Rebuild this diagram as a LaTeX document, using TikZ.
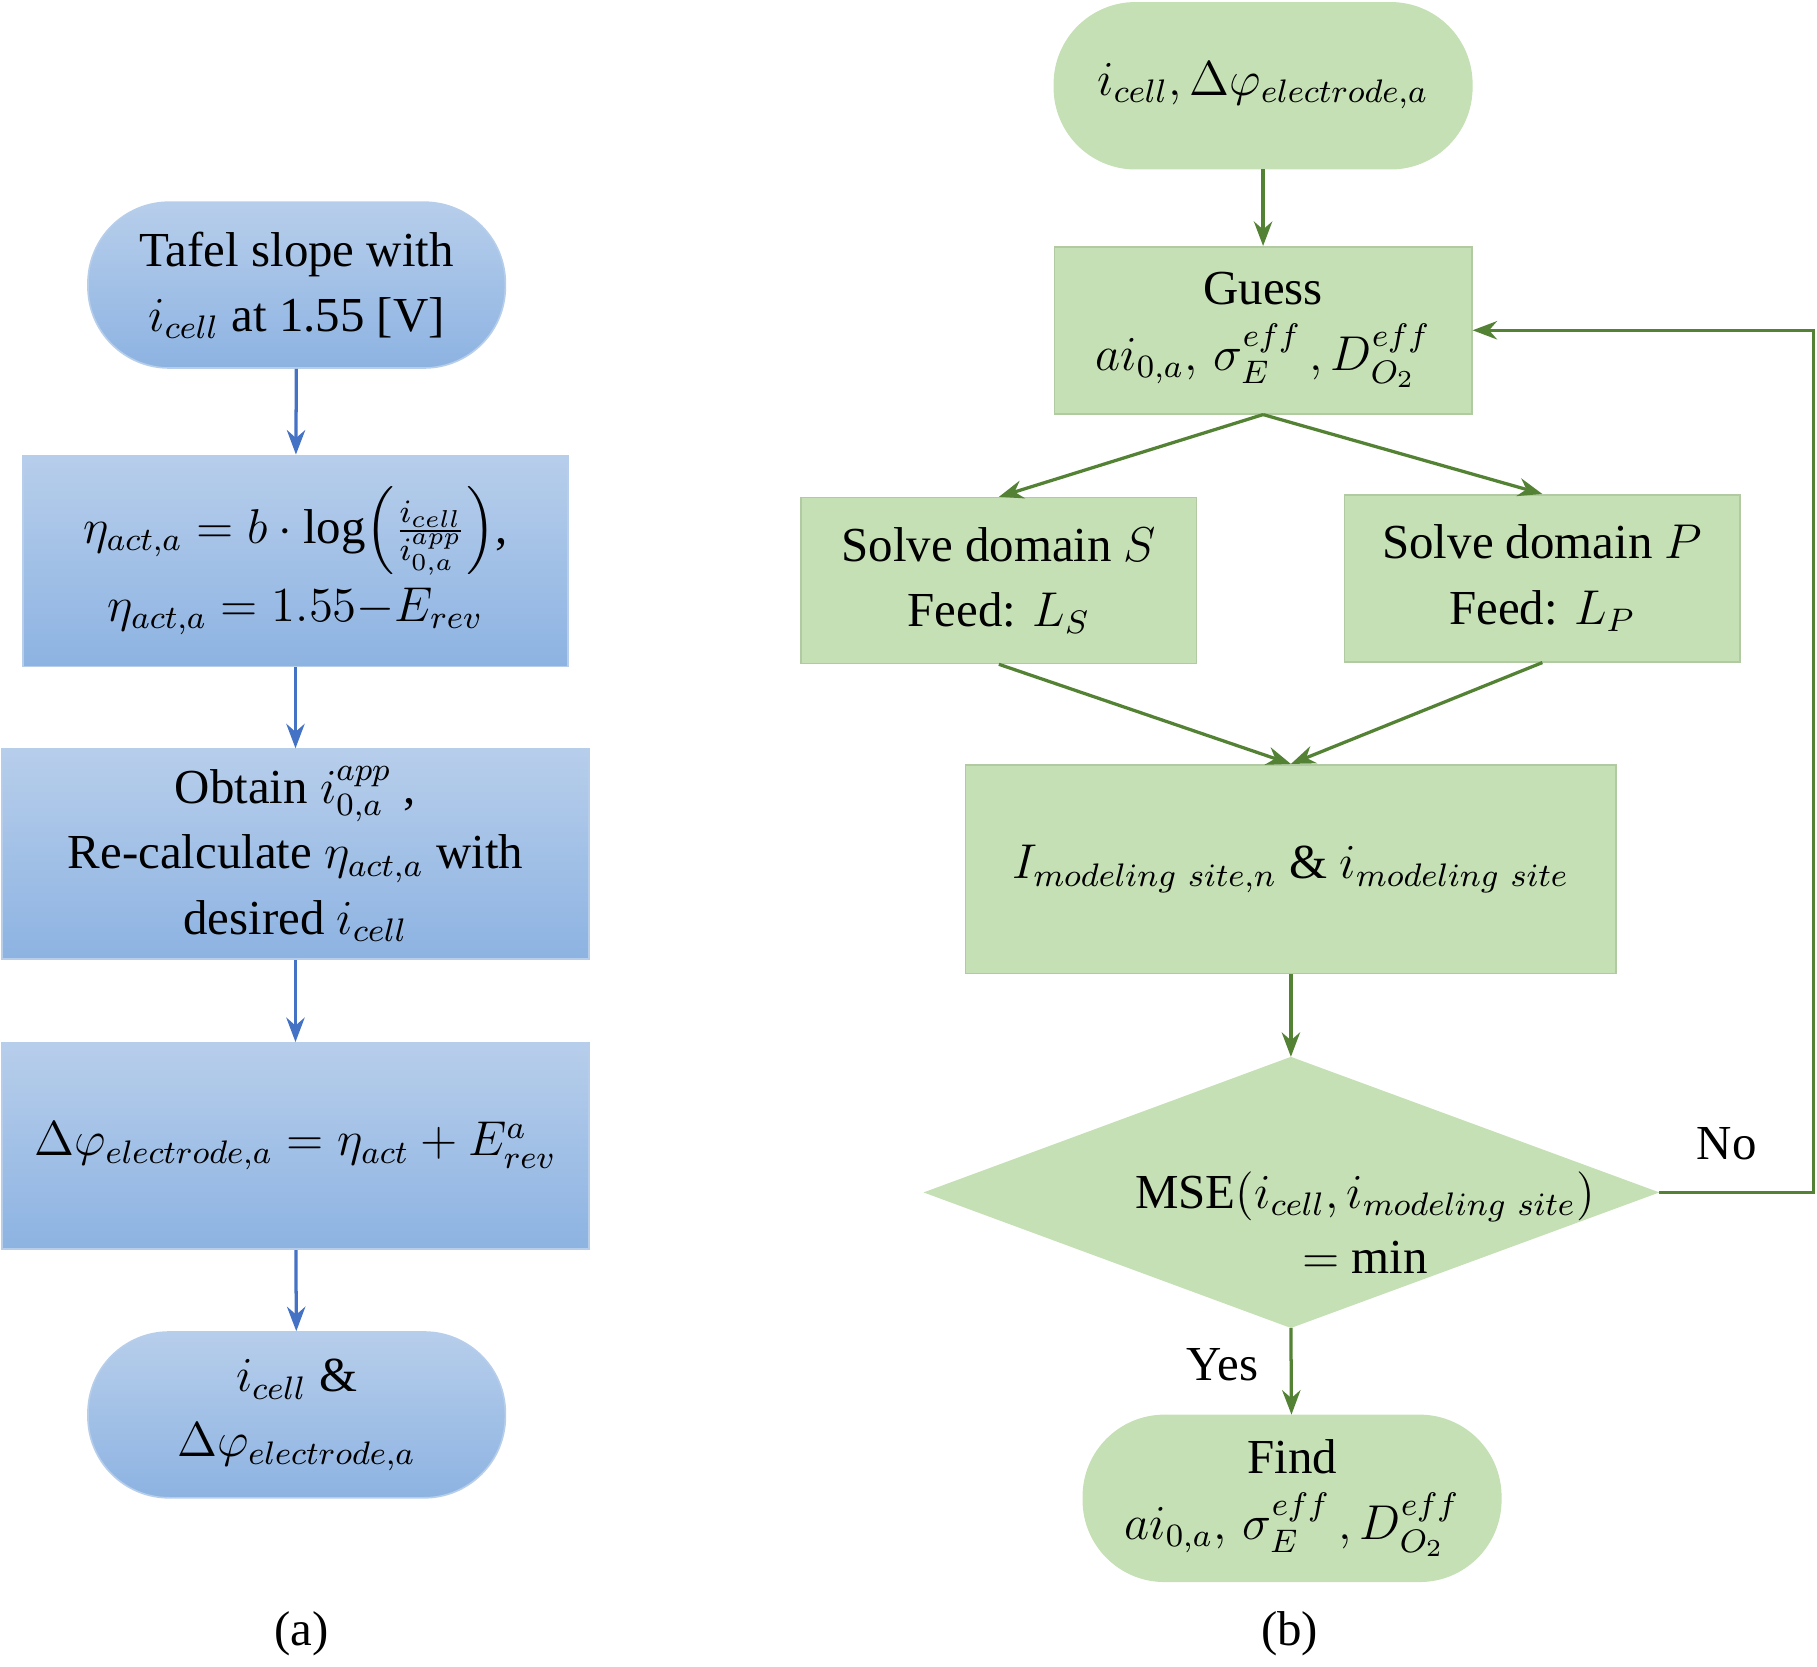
\documentclass[tikz,border=0pt]{standalone}
\usepackage{amsmath}
\usepackage{fontspec}
\setmainfont{Liberation Serif}
\usetikzlibrary{shapes.geometric,arrows.meta}
\definecolor{bluetop}{HTML}{B7CEEB}
\definecolor{bluebot}{HTML}{8DB3E2}
\definecolor{bluearrow}{HTML}{4472C4}
\definecolor{greenfill}{HTML}{C5E0B4}
\definecolor{greenarrow}{HTML}{548235}
\begin{document}
\begin{tikzpicture}
            [x=0.01cm, y=-0.01cm, font=\fontsize{12}{16}\selectfont,
            bterm/.style={rounded corners=0.7cm, top color=bluetop, bottom color=bluebot, draw=bluetop, minimum width=3.6cm, minimum height=1.43cm, align=center, inner sep=1pt},
            bbox/.style={top color=bluetop, bottom color=bluebot, draw=bluetop, align=center, inner sep=1pt},
            gterm/.style={rounded corners=0.7cm, fill=greenfill, draw=greenfill, minimum width=3.6cm, minimum height=1.43cm, align=center, inner sep=1pt},
            gbox/.style={fill=greenfill, draw=greenfill!90!black, align=center, inner sep=1pt},
            barrow/.style={-{Stealth[length=6pt]}, thick, bluearrow},
            garrow/.style={-{Stealth[length=6pt]}, thick, greenarrow}]

            \useasboundingbox (0,0) rectangle (1568,1438);

            % (a) column
            \node[bterm] (tafel) at (256,246) {Tafel slope with\\ $i_{cell}$ at 1.55 [V]};
            \node[bbox, minimum width=4.7cm, minimum height=1.82cm] (eta) at (255,484)
                {$\eta_{act,a}=b\cdot\log\!\left(\frac{i_{cell}}{i_{0,a}^{app}}\right)$,\\[2pt] $\eta_{act,a}=1.55{-}E_{rev}$};
            \node[bbox, minimum width=5.06cm, minimum height=1.81cm] (obtain) at (255,737)
                {Obtain $i_{0,a}^{app}$ ,\\ Re-calculate $\eta_{act,a}$ with\\ desired $i_{cell}$};
            \node[bbox, minimum width=5.06cm, minimum height=1.78cm] (dphi) at (255,989)
                {$\Delta\varphi_{electrode,a}=\eta_{act}+E_{rev}^{a}$};
            \node[bterm] (out) at (256,1221) {$i_{cell}$ \&\\ $\Delta\varphi_{electrode,a}$};
            \node at (260,1410) {(a)};

            \draw[barrow] (tafel) -- (eta);
            \draw[barrow] (eta) -- (obtain);
            \draw[barrow] (obtain) -- (dphi);
            \draw[barrow] (dphi) -- (out);

            % (b) column
            \node[gterm] (input) at (1090,74) {$i_{cell},\Delta\varphi_{electrode,a}$};
            \node[gbox, minimum width=3.6cm, minimum height=1.44cm] (guess) at (1090,285)
                {Guess\\ $ai_{0,a},\,\sigma_{E}^{eff}\,,D_{O_2}^{eff}$};
            \node[gbox, minimum width=3.41cm, minimum height=1.43cm] (solveS) at (862,501)
                {Solve domain $S$\\ Feed: $L_S$};
            \node[gbox, minimum width=3.41cm, minimum height=1.44cm] (solveP) at (1331,499)
                {Solve domain $P$\\ Feed: $L_P$};
            \node[gbox, minimum width=5.61cm, minimum height=1.8cm] (model) at (1114,750)
                {$I_{modeling\ site,n}$ \& $i_{modeling\ site}$};

            % decision diamond
            \coordinate (mseN) at (1114,912);
            \coordinate (mseE) at (1432,1029);
            \coordinate (mseS) at (1114,1146);
            \coordinate (mseW) at (797,1029);
            \fill[greenfill] (mseN) -- (mseE) -- (mseS) -- (mseW) -- cycle;
            \node[align=center] (mse) at (1178,1055)
                {MSE$\left(i_{cell},i_{modeling\ site}\right)$\\ $=$ min};
            \node[gterm] (find) at (1115,1293) {Find\\ $ai_{0,a},\,\sigma_{E}^{eff}\,,D_{O_2}^{eff}$};
            \node at (1113,1410) {(b)};

            \coordinate (noR) at (1565,1029);
            \coordinate (noT) at (1565,285);
            \node at (1490,987) {No};
            \node at (1055,1178) {Yes};

            \draw[garrow] (input) -- (guess);
            \draw[garrow] (guess.south) -- (solveS.north);
            \draw[garrow] (guess.south) -- (solveP.north);
            \draw[garrow] (solveS.south) -- (model.north);
            \draw[garrow] (solveP.south) -- (model.north);
            \draw[garrow] (model) -- (mseN);
            \draw[garrow] (mseS) -- (find);
            \draw[garrow] (mseE) -- (noR) -- (noT) -- (guess.east);

        \end{tikzpicture}
\end{document}
